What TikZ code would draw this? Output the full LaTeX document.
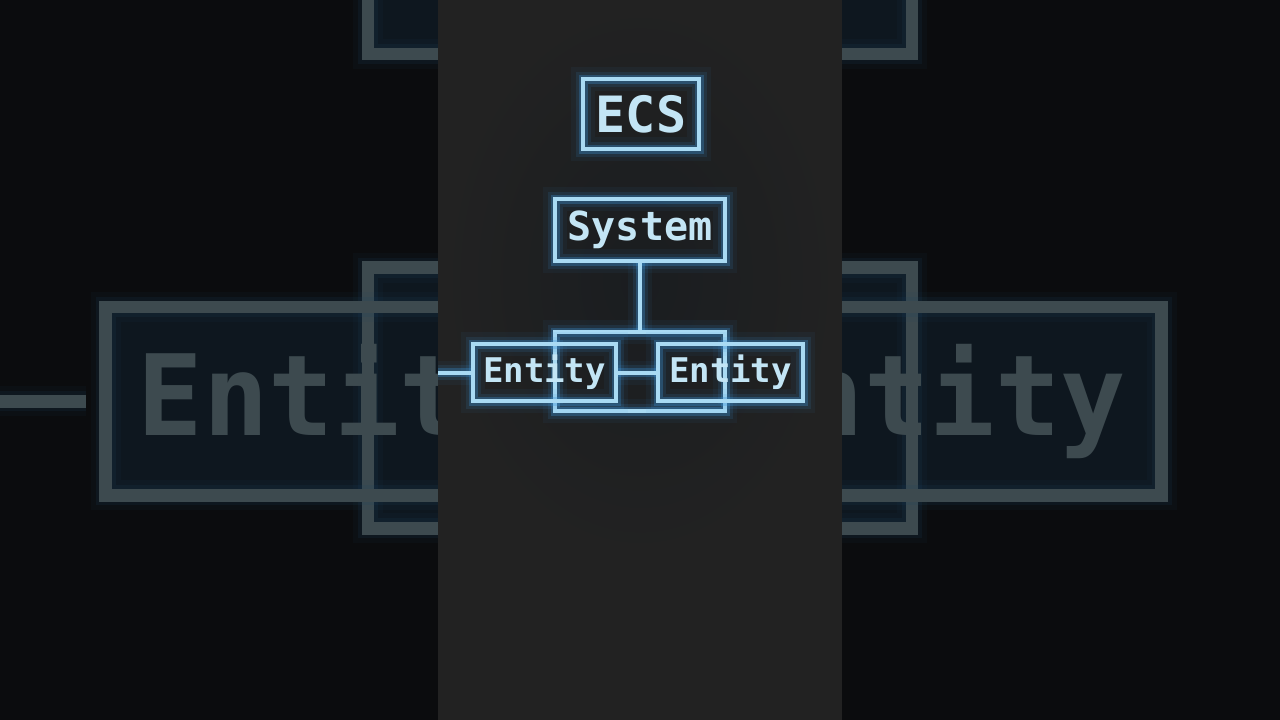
\documentclass[tikz,border=0pt]{standalone}
\usepackage{fontspec}
\setmonofont{DejaVu Sans Mono}
\definecolor{sidec}{HTML}{0B0C0E}
\definecolor{panelc}{HTML}{222222}
\definecolor{shadec}{HTML}{1A1D20}
\definecolor{linec}{HTML}{A9DAF3}
\definecolor{textc}{HTML}{C3E5F5}
\definecolor{glowc}{HTML}{3D94D8}
\definecolor{bgline}{HTML}{3D4A4F}
\definecolor{bgfill}{HTML}{0E171F}
\definecolor{bgglow}{HTML}{1D4360}

% one copy of the ECS diagram, drawn twice
\newcommand{\ecsdiagram}{%
        \node[box,minimum width=170pt,minimum height=79pt] (grp) at (640,371.5) {};
        \node[box,font=\ttfamily\bfseries\fontsize{50}{60}\selectfont,minimum width=116pt,minimum height=70pt] (ecs) at (641,114) {ECS};
        \node[box,sysshift,font=\ttfamily\bfseries\fontsize{40}{48}\selectfont,minimum width=170pt,minimum height=62pt] (sys) at (640,230) {System};
        \node[box,font=\ttfamily\bfseries\fontsize{34}{40}\selectfont,minimum width=143pt,minimum height=57pt] (ent1) at (544.5,372.5) {Entity};
        \node[box,font=\ttfamily\bfseries\fontsize{34}{40}\selectfont,minimum width=145pt,minimum height=57pt] (ent2) at (730.5,372.5) {Entity};
        \coordinate (edge) at (438,372.5);
        \draw[link] (sys.south)--(grp.north);
        \draw[link] (edge)--(ent1.west);
        \draw[link] (ent1.east)--(ent2.west);
}

\begin{document}
\begin{tikzpicture}[x=1pt,y=-1pt,sysshift/.style={},
        box/.style={draw=linec,line width=4pt,text=textc,
                preaction={draw=glowc,line width=24pt,opacity=.06},
                preaction={draw=glowc,line width=15pt,opacity=.12},
                preaction={draw=glowc,line width=9pt,opacity=.3}},
        link/.style={draw=linec,line width=4pt,
                preaction={draw=glowc,line width=24pt,opacity=.06},
                preaction={draw=glowc,line width=15pt,opacity=.12},
                preaction={draw=glowc,line width=9pt,opacity=.3}}]
        \useasboundingbox (0,0) rectangle (1280,720);
        \fill[sidec] (0,0) rectangle (1280,720);
        % blown-up copy behind the panel
        \begin{scope}[shift={(640,360)},xscale=3.2,yscale=3.3,shift={(-640,-360)},transform shape,
                sysshift/.style={yshift=-6.3pt},
                box/.style={draw=bgline,line width=12.5pt,text=bgline,
                        preaction={draw=bgglow,line width=30pt,opacity=.08},
                        preaction={draw=bgglow,line width=20pt,opacity=.15}},
                link/.style={draw=bgline,line width=12.5pt,
                        preaction={draw=bgglow,line width=30pt,opacity=.08},
                        preaction={draw=bgglow,line width=20pt,opacity=.15}}]
                \fill[bgfill] (473,344) rectangle (616,401);
                \fill[bgfill] (659,344) rectangle (802,401);
                \fill[bgfill] (555,332) rectangle (725,411);
                \fill[bgfill] (555,205) rectangle (725,267);
                \ecsdiagram
        \end{scope}
        % the panel
        \fill[panelc] (438,0) rectangle (842,720);
        \begin{scope}
                \clip (438,0) rectangle (842,720);
                \shade[inner color=shadec,outer color=panelc] (640,280) ellipse (200 and 280);
        \end{scope}
        \ecsdiagram
\end{tikzpicture}
\end{document}
